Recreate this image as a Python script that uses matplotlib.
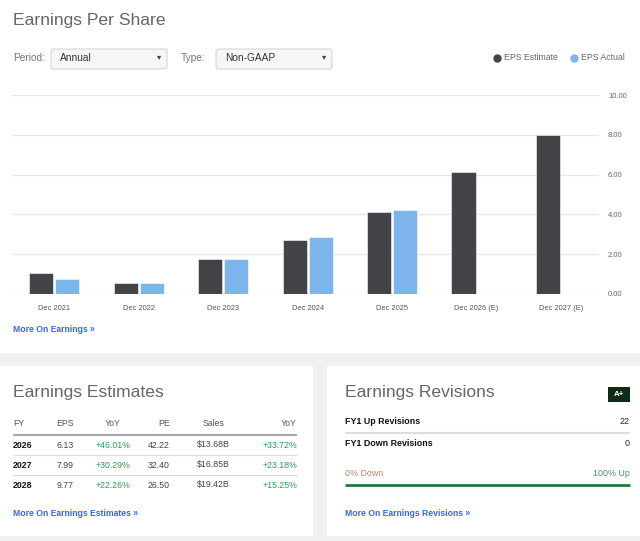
import matplotlib
matplotlib.use('Agg')
import matplotlib.pyplot as plt
from matplotlib.patches import Rectangle, FancyBboxPatch
from matplotlib.lines import Line2D

plt.rcParams['font.family'] = ['Liberation Sans', 'DejaVu Sans']

# chart data
periods = ['Dec 2021', 'Dec 2022', 'Dec 2023', 'Dec 2024', 'Dec 2025', 'Dec 2026 (E)', 'Dec 2027 (E)']
eps_estimate = [1.05, 0.57, 1.77, 2.72, 4.13, 6.13, 7.99]
eps_actual = [0.77, 0.57, 1.77, 2.86, 4.20, None, None]
y_ticks = [0, 2, 4, 6, 8, 10]

# estimates table
est_header = ['FY', 'EPS', 'YoY', 'PE', 'Sales', 'YoY']
est_years = ['2026', '2027', '2028']
est_eps = ['6.13', '7.99', '9.77']
est_eps_yoy = ['+46.01%', '+30.29%', '+22.26%']
est_pe = ['42.22', '32.40', '26.50']
est_sales = ['$13.68B', '$16.85B', '$19.42B']
est_sales_yoy = ['+33.72%', '+23.18%', '+15.25%']

# revisions
up_revisions = 22
down_revisions = 0
grade = 'A+'

W, H = 640, 541
def fx(x):
    return x / W
def fy(y):
    return 1 - y / H

C_EST = '#434348'
C_ACT = '#7cb5ec'
C_LINK = '#2e6be6'
C_GREEN = '#2e9d55'
C_TITLE = '#666666'
C_GRAY_BG = '#f3f1f0'

fig = plt.figure(figsize=(6.4, 5.41), dpi=100)
fig.patch.set_facecolor('white')

def rect(x0, y0, x1, y1, color):
    fig.add_artist(Rectangle((fx(x0), fy(y1)), fx(x1) - fx(x0), fy(y0) - fy(y1),
                             transform=fig.transFigure, color=color, lw=0, zorder=0))

# gray separators between cards
rect(0, 353, 640, 366, C_GRAY_BG)
rect(313, 366, 327, 536, C_GRAY_BG)
rect(0, 536, 640, 541, C_GRAY_BG)

def hline(x0, x1, y, color, lw):
    fig.add_artist(Line2D([fx(x0), fx(x1)], [fy(y), fy(y)], transform=fig.transFigure,
                          color=color, lw=lw, solid_capstyle='butt'))

# header
fig.text(fx(13), fy(20), 'Earnings Per Share', fontsize=12.6, color=C_TITLE, va='center')
fig.text(fx(13), fy(58), 'Period:', fontsize=7.3, color='#777777', va='center')
fig.text(fx(181), fy(58), 'Type:', fontsize=7.3, color='#777777', va='center')
for x0, x1, label in [(51, 167, 'Annual'), (216, 332, 'Non-GAAP')]:
    fig.add_artist(FancyBboxPatch((fx(x0), fy(69)), fx(x1) - fx(x0), fy(49) - fy(69),
                                  boxstyle='round,pad=0,rounding_size=0.004',
                                  transform=fig.transFigure, facecolor='#f6f6f6',
                                  edgecolor='#d6d6d6', lw=0.8))
    fig.text(fx(x0 + 9), fy(58), label, fontsize=7.3, color='#333333', va='center')
    fig.text(fx(x1 - 8), fy(58), '▾', fontsize=6, color='#444444', va='center', ha='center')

# legend
for xm, label, c in [(497, 'EPS Estimate', C_EST), (574, 'EPS Actual', C_ACT)]:
    fig.add_artist(Line2D([fx(xm)], [fy(58)], transform=fig.transFigure, marker='o',
                          markersize=5, color=c, lw=0))
    fig.text(fx(xm + 7), fy(58), label, fontsize=6.3, color='#666666', va='center')

# bar chart
ax = fig.add_axes([fx(12), fy(294), fx(599) - fx(12), fy(95) - fy(294)])
ax.set_facecolor('none')
bw = 0.285
xs = list(range(len(periods)))
ax.bar([x - bw / 2 - 0.012 for x in xs], eps_estimate, width=bw, color=C_EST,
       edgecolor='white', lw=0.4, zorder=3)
act_x = [x + bw / 2 + 0.012 for x, v in zip(xs, eps_actual) if v is not None]
act_v = [v for v in eps_actual if v is not None]
ax.bar(act_x, act_v, width=bw, color=C_ACT, edgecolor='white', lw=0.4, zorder=3)
ax.set_xlim(-0.5, 6.45)
ax.set_ylim(0, 10)
ax.set_yticks(y_ticks)
ax.set_yticklabels(['%.2f' % t for t in y_ticks])
ax.yaxis.tick_right()
ax.set_xticks(xs)
ax.set_xticklabels(periods)
ax.tick_params(axis='y', length=0, pad=6.5, labelsize=5.5, labelcolor='#666666')
ax.tick_params(axis='x', length=0, pad=8, labelsize=5.4, labelcolor='#555555')
ax.grid(axis='y', color='#e6e6e6', lw=1)
for s in ax.spines.values():
    s.set_visible(False)

fig.text(fx(13), fy(330), 'More On Earnings »', fontsize=6.2, color=C_LINK,
         fontweight='bold', va='center')

# earnings estimates card
fig.text(fx(13), fy(392), 'Earnings Estimates', fontsize=12.6, color=C_TITLE, va='center')
col_x = [13, 65, 113, 170, 213.5, 297]
col_ha = ['left', 'center', 'center', 'right', 'center', 'right']
for h, x, ha in zip(est_header, col_x, col_ha):
    fig.text(fx(x), fy(423), h, fontsize=6.3, color='#555555', ha=ha, va='center')
hline(13, 297, 435, '#a8a8a8', 1.5)
row_y = [445, 465, 485]
for i, y in enumerate(row_y):
    vals = [est_years[i], est_eps[i], est_eps_yoy[i], est_pe[i], est_sales[i], est_sales_yoy[i]]
    colors = ['#111111', '#444444', C_GREEN, '#444444', '#444444', C_GREEN]
    for j, (v, x, ha) in enumerate(zip(vals, col_x, col_ha)):
        fig.text(fx(x), fy(y), v, fontsize=6.3, color=colors[j], ha=ha, va='center',
                 fontweight='bold' if j == 0 else 'normal')
    if i < len(row_y) - 1:
        hline(13, 297, y + 10, '#dddddd', 0.8)
fig.text(fx(13), fy(514), 'More On Earnings Estimates »', fontsize=6.2, color=C_LINK,
         fontweight='bold', va='center')

# earnings revisions card
fig.text(fx(345), fy(393), 'Earnings Revisions', fontsize=12.6, color=C_TITLE, va='center')
rect(608, 387, 630, 402, '#0e2b15')
fig.text(fx(619), fy(394.5), grade, fontsize=5.8, color='white', fontweight='bold',
         ha='center', va='center')
fig.text(fx(345), fy(422), 'FY1 Up Revisions', fontsize=6.4, color='#111111',
         fontweight='bold', va='center')
fig.text(fx(630), fy(422), str(up_revisions), fontsize=6.4, color='#222222', ha='right', va='center')
hline(345, 630, 433, '#dddddd', 1.5)
fig.text(fx(345), fy(444), 'FY1 Down Revisions', fontsize=6.4, color='#111111',
         fontweight='bold', va='center')
fig.text(fx(630), fy(444), str(down_revisions), fontsize=6.4, color='#222222', ha='right', va='center')
total = up_revisions + down_revisions
down_pct = round(100 * down_revisions / total)
up_pct = 100 - down_pct
fig.text(fx(345), fy(473), '%d%% Down' % down_pct, fontsize=6.4, color='#c8826a', va='center')
fig.text(fx(630), fy(473), '%d%% Up' % up_pct, fontsize=6.4, color='#4d8f62', ha='right', va='center')
split = 345 + (630 - 345) * down_pct / 100
if down_pct > 0:
    hline(345, split, 485, '#c0504d', 2)
hline(split, 630, 485, '#1b7a3d', 2)
fig.text(fx(345), fy(514), 'More On Earnings Revisions »', fontsize=6.2, color=C_LINK,
         fontweight='bold', va='center')

fig.savefig('out.png', dpi=100)
